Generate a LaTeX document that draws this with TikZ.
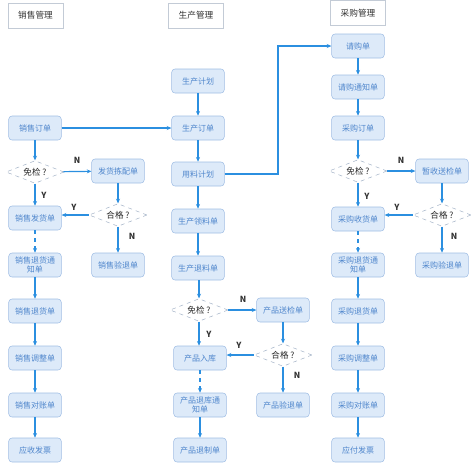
\documentclass[tikz,border=0pt]{standalone}
\usepackage{fontspec}
\setmainfont{Noto Sans CJK SC}
\usetikzlibrary{arrows.meta,shapes.geometric}

\definecolor{boxfill}{RGB}{221,234,249}
\definecolor{boxline}{RGB}{160,190,228}
\definecolor{boxtext}{RGB}{79,134,204}
\definecolor{flowline}{RGB}{43,143,224}
\definecolor{dialine}{RGB}{165,180,200}
\definecolor{headline}{RGB}{195,203,214}

\begin{document}
\begin{tikzpicture}[x=0.75pt,y=0.75pt,yscale=-1,xscale=1,
  docbox/.style={draw=boxline,fill=boxfill,rounded corners=2.5pt,minimum width=39.5pt,minimum height=18pt,inner sep=1pt,text=boxtext,align=center,font=\fontsize{6}{6.5}\selectfont},
  headbox/.style={draw=headline,fill=white,minimum width=41pt,minimum height=19pt,inner sep=1pt,text=black!80,font=\fontsize{6.5}{7}\selectfont},
  checkbox/.style={shape=diamond,draw=dialine,dashed,fill=white,aspect=2.5,inner sep=0pt,minimum width=43.5pt,minimum height=17pt,text=black!85,font=\fontsize{6.4}{7}\selectfont},
  yn/.style={text=black!80,font=\fontsize{6.3}{7}\selectfont\bfseries},
  flow/.style={draw=flowline,line width=0.9pt,-{Stealth[length=3.5pt,width=3pt]}}]
\useasboundingbox (0,0) rectangle (474,465);

%headers
\node [headbox] (h1) at (35.5,15.5) {销售管理};
\node [headbox] (h2) at (196,15.5) {生产管理};
\node [headbox] (h3) at (358,13) {采购管理};

%sales column
\node [docbox] (xs1) at (35,128) {销售订单};
\node [checkbox] (xmj) at (35,172) {免检 ?};
\node [docbox] (xjp) at (118,171) {发货拣配单};
\node [checkbox] (xhg) at (118,215) {合格 ?};
\node [docbox] (xfh) at (35,218) {销售发货单};
\node [docbox] (xyt) at (118,265) {销售验退单};
\node [docbox] (xtz) at (35,265) {销售退货通\\知单};
\node [docbox] (xth) at (35,311) {销售退货单};
\node [docbox] (xtj) at (35,358) {销售调整单};
\node [docbox] (xdz) at (35,405) {销售对账单};
\node [docbox] (xfp) at (35,450) {应收发票};

%production column
\node [docbox] (sjh) at (198,81) {生产计划};
\node [docbox] (sdd) at (198,128) {生产订单};
\node [docbox] (syl) at (198,174) {用料计划};
\node [docbox] (sll) at (198,221) {生产领料单};
\node [docbox] (stl) at (198,268) {生产退料单};
\node [checkbox] (smj) at (199,310) {免检 ?};
\node [docbox] (ssj) at (283,310) {产品送检单};
\node [checkbox] (shg) at (283,355) {合格 ?};
\node [docbox] (srk) at (200,358) {产品入库};
\node [docbox] (stk) at (200,405) {产品退库通\\知单};
\node [docbox] (syt) at (283,405) {产品验退单};
\node [docbox] (stz) at (200,450) {产品退制单};

%purchase column
\node [docbox] (cqg) at (358,46) {请购单};
\node [docbox] (ctz) at (358,87) {请购通知单};
\node [docbox] (cdd) at (358,128) {采购订单};
\node [checkbox] (cmj) at (358,171) {免检 ?};
\node [docbox] (csj) at (442,171) {暂收送检单};
\node [checkbox] (chg) at (442,215) {合格 ?};
\node [docbox] (csh) at (358,219) {采购收货单};
\node [docbox] (cyt) at (442,265) {采购验退单};
\node [docbox] (ctt) at (358,265) {采购退货通\\知单};
\node [docbox] (cth) at (358,311) {采购退货单};
\node [docbox] (ctj) at (358,358) {采购调整单};
\node [docbox] (cdz) at (358,405) {采购对账单};
\node [docbox] (cfp) at (358,450) {应付发票};

\coordinate (bend) at (278,120);

%sales flow
\draw [flow] (xs1) -- (xmj);
\draw [flow] (xmj) -- (xjp);
\draw [flow] (xmj) -- (xfh);
\draw [flow] (xjp) -- (xhg);
\draw [flow] (xhg.west) -- (xhg.west -| xfh.east);
\draw [flow] (xhg) -- (xyt);
\draw [flow,dashed] (xfh) -- (xtz);
\draw [flow] (xtz) -- (xth);
\draw [flow] (xth) -- (xtj);
\draw [flow] (xtj) -- (xdz);
\draw [flow] (xdz) -- (xfp);
\draw [flow] (xs1) -- (sdd);

%production flow
\draw [flow] (sjh) -- (sdd);
\draw [flow] (sdd) -- (syl);
\draw [flow] (syl) -- (sll);
\draw [flow] (sll) -- (stl);
\draw [flow] (stl.south -| smj.north) -- (smj);
\draw [flow] (smj) -- (ssj);
\draw [flow] (smj.south) -- (smj.south |- srk.north);
\draw [flow] (ssj) -- (shg);
\draw [flow] (shg.west) -- (shg.west -| srk.east);
\draw [flow] (shg) -- (syt);
\draw [flow,dashed] (srk) -- (stk);
\draw [flow] (stk) -- (stz);
\draw [flow] (syl.east) -| (bend) |- (cqg.west);

%purchase flow
\draw [flow] (cqg) -- (ctz);
\draw [flow] (ctz) -- (cdd);
\draw [flow] (cdd) -- (cmj);
\draw [flow] (cmj) -- (csj);
\draw [flow] (cmj) -- (csh);
\draw [flow] (csj) -- (chg);
\draw [flow] (chg.west) -- (chg.west -| csh.east);
\draw [flow] (chg) -- (cyt);
\draw [flow,dashed] (csh) -- (ctt);
\draw [flow] (ctt) -- (cth);
\draw [flow] (cth) -- (ctj);
\draw [flow] (ctj) -- (cdz);
\draw [flow] (cdz) -- (cfp);

%Y/N labels
\node [yn] (xn1) at (77,160) {N};
\node [yn] (xy1) at (44,195) {Y};
\node [yn] (xy2) at (74,207) {Y};
\node [yn] (xn2) at (132,236) {N};
\node [yn] (sn1) at (243,299) {N};
\node [yn] (sy1) at (209,334) {Y};
\node [yn] (sy2) at (239,345) {Y};
\node [yn] (sn2) at (297,375) {N};
\node [yn] (cn1) at (401,160) {N};
\node [yn] (cy1) at (367,196) {Y};
\node [yn] (cy2) at (397,207) {Y};
\node [yn] (cn2) at (454,236) {N};

\end{tikzpicture}
\end{document}
